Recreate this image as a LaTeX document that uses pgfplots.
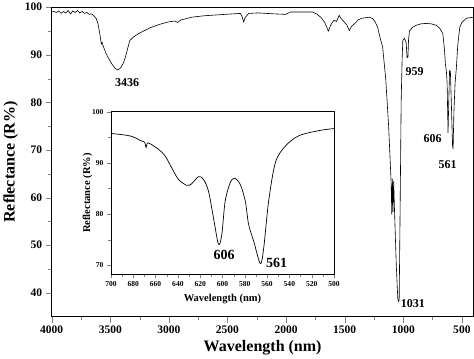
\documentclass[border=0pt]{standalone}
\usepackage{fontspec}
\setmainfont{Liberation Serif}
\usepackage{pgfplots}
\pgfplotsset{compat=1.18}
\begin{document}
\begin{tikzpicture}
\begin{axis}[
  name=main,
  scale only axis, width=420bp, height=308bp,
  x dir=reverse, xmin=400, xmax=4000, ymin=35, ymax=100,
  xtick={500,1000,...,4000}, ytick={40,50,...,100},
  minor x tick num=1, minor y tick num=1,
  tick align=outside, xtick pos=bottom, ytick pos=left,
  major tick length=6bp, minor tick length=3.5bp,
  /pgf/number format/assume math mode=true,
  /pgf/number format/set thousands separator={},
  ticklabel style={font=\bfseries\fontsize{11.5}{12}\selectfont},
  xlabel={Wavelength (nm)}, ylabel={Reflectance (R\%)},
  label style={font=\bfseries\fontsize{16}{18}\selectfont},
  axis line style={line width=0.8pt},
  clip=false,
]
\addplot[black, line width=0.6pt, mark=none] coordinates {
(4000,99.0)(3980,99.1)(3960,98.9)(3940,99.2)(3920,98.7)(3900,99.1)(3880,98.8)(3860,99.3)(3840,98.6)(3820,99.2)(3800,98.9)(3780,99.3)(3760,98.8)(3740,99.1)(3720,98.7)(3700,98.9)(3680,98.5)(3660,98.6)(3640,98.2)(3620,97.6)(3605,96.5)(3590,94.5)(3577,92.3)(3570,92.6)(3560,91.8)(3540,90.5)(3520,89.5)(3490,88.2)(3460,87.2)(3436,86.8)(3410,87.3)(3390,88.2)(3370,89.6)(3350,91.5)(3334,93.0)(3300,93.8)(3262,94.4)(3200,95.2)(3148,95.8)(3080,96.4)(3005,96.9)(2950,97.1)(2925,96.8)(2900,97.3)(2805,97.9)(2700,98.2)(2519,98.5)(2390,98.7)(2375,98.0)(2362,96.9)(2350,97.8)(2319,98.7)(2233,98.8)(2100,98.6)(2004,98.5)(1961,99.0)(1860,99.0)(1776,99.0)(1740,98.6)(1704,97.9)(1670,96.8)(1650,95.6)(1639,95.0)(1620,96.2)(1600,97.0)(1590,97.3)(1570,97.0)(1547,98.3)(1530,97.6)(1504,96.9)(1480,96.2)(1461,95.1)(1440,96.0)(1418,96.5)(1380,97.4)(1350,97.7)(1318,97.8)(1290,97.9)(1261,97.6)(1240,96.9)(1219,95.8)(1200,93.8)(1176,91.6)(1150,85)(1125,75)(1104,63.4)(1098,56.5)(1093,64)(1088,57)(1082,63.5)(1075,57.5)(1060,46)(1047,38.8)(1040,38.2)(1035,38.5)(1028,55)(1018,80.3)(1010,89)(1004,93)(990,93.5)(975,92.5)(968,89.4)(960,89.6)(955,93.2)(947,95)(920,95.8)(890,96.2)(850,96.5)(804,96.6)(760,96.5)(718,96.2)(690,95.6)(663,94.5)(650,91.5)(640,88)(632,86.5)(626,84)(618,73.6)(612,80)(605,86.7)(598,86.5)(590,80)(580,71)(575,70.2)(568,78)(558,84)(547,87.3)(535,92)(518,95.8)(500,96.8)(461,97.7)(430,97.8)(400,97.9)
};
\begin{scope}[font=\bfseries\fontsize{12}{12}\selectfont]
\node at (axis cs:3357,84.1) {3436};
\node[anchor=west] at (axis cs:1010,86.5) {959};
\node at (axis cs:750,72.4) {606};
\node at (axis cs:621,67) {561};
\node at (axis cs:919,37.7) {1031};
\end{scope}
\end{axis}
\begin{axis}[
  at={(59bp,42bp)}, anchor=south west,
  scale only axis, width=222bp, height=162bp,
  x dir=reverse, xmin=500, xmax=700, ymin=68.2, ymax=100,
  xtick={500,520,...,700}, ytick={70,80,90,100},
  minor x tick num=1, minor y tick num=1,
  tick align=outside, xtick pos=bottom, ytick pos=left,
  major tick length=4bp, minor tick length=2.5bp,
  /pgf/number format/assume math mode=true,
  ticklabel style={font=\bfseries\fontsize{7.5}{8}\selectfont},
  xlabel={Wavelength (nm)}, ylabel={Reflectance (R\%)},
  ylabel shift=-7bp,
  label style={font=\bfseries\fontsize{10.5}{12}\selectfont},
  axis line style={line width=0.6pt},
  clip=false,
]
\addplot[black, line width=0.7pt, mark=none, smooth] coordinates {
(700,95.75)(690,95.5)(681.7,95.2)(672.7,94.3)(669.7,94.0)(668.5,93.0)(666.7,93.9)(657.7,92.7)(651.6,91.4)(645.7,89.1)(639.6,86.8)(632.1,85.6)(627.7,85.9)(621.6,87.3)(617.1,86.8)(612.6,84.5)(608.1,79.3)(603.6,74.1)(600.6,76.0)(597.6,82.5)(593.1,86.1)(589.2,87.0)(584.1,85.8)(579.5,82.5)(576.6,78.0)(572,74.7)(566,70.3)(563,73.4)(558.6,82.5)(552.5,90.1)(543.5,93.3)(531.5,95.3)(513.5,96.3)(500,96.7)
};
\begin{scope}[font=\bfseries\fontsize{14}{14}\selectfont]
\node at (axis cs:598.5,72.0) {606};
\node at (axis cs:551.4,70.5) {561};
\end{scope}
\end{axis}
\end{tikzpicture}
\end{document}
